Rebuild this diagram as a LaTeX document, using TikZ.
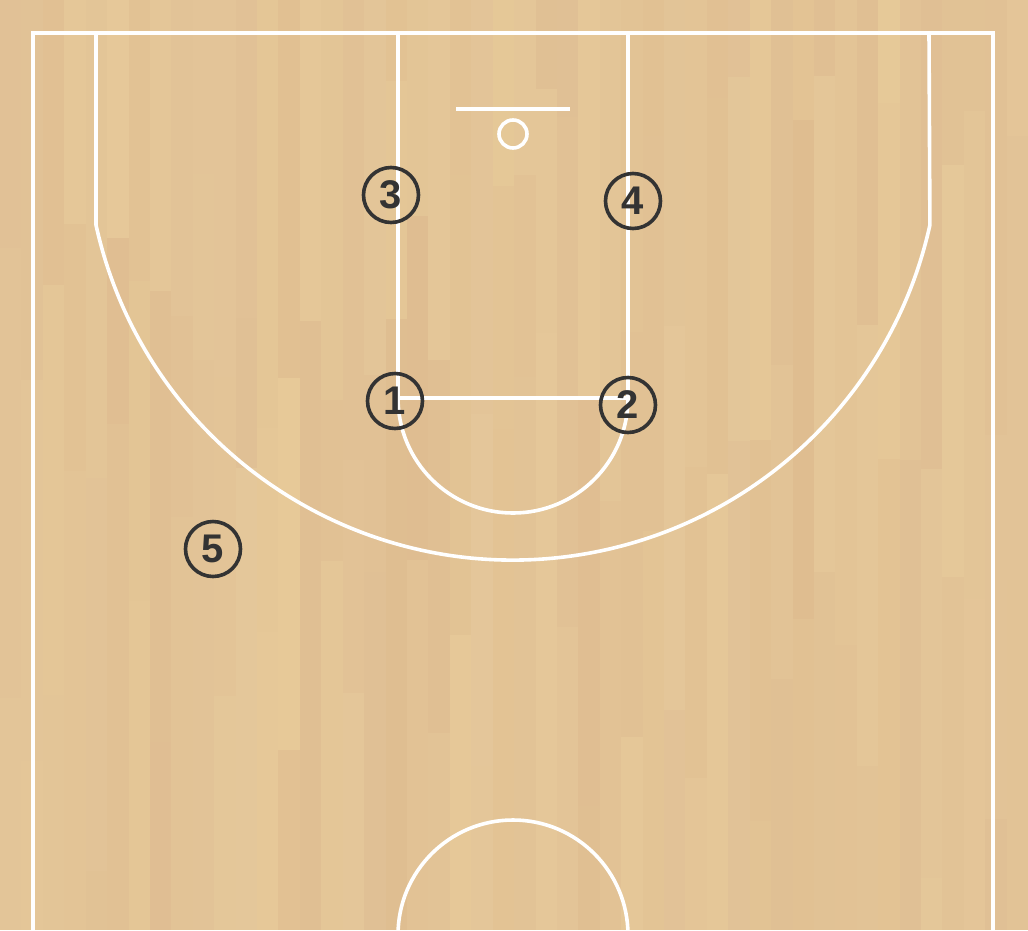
\documentclass[tikz,border=0pt]{standalone}
\usepackage{fontspec}
\setsansfont{Liberation Sans}
\definecolor{woodA}{HTML}{E7CA98}
\definecolor{woodB}{HTML}{DEBB8E}
\definecolor{woodC}{HTML}{E2C49B}
\definecolor{ink}{HTML}{333333}
\tikzset{
  court/.style={draw=white, line width=3.6pt},
  player/.style={circle, draw=ink, line width=3.6pt, minimum size=55pt, inner sep=0pt,
    text=ink, font=\sffamily\bfseries\fontsize{40}{40}\selectfont}
}
\begin{document}
\begin{tikzpicture}[x=1pt, y=-1pt]
\useasboundingbox (0,0) rectangle (1028,930);
\clip (0,0) rectangle (1028,930);
\fill[woodC] (0,0) rectangle (1028,930);
\pgfmathsetseed{12}
\foreach \i in {0,...,47}{
  \pgfmathsetmacro\xa{\i*21.42}
  \pgfmathsetmacro\xb{(\i+1)*21.42+0.5}
  \pgfmathsetmacro\ya{int(random(60,480))}
  \pgfmathsetmacro\yb{int(\ya+random(150,520))}
  \pgfmathsetmacro\pa{int(random(0,100))}
  \pgfmathsetmacro\pb{int(random(0,100))}
  \pgfmathsetmacro\pc{int(random(0,100))}
  \pgfmathsetmacro\qa{int(random(40,90))}
  \fill[woodA!\pa!woodB!\qa!woodC] (\xa,0) rectangle (\xb,\ya);
  \fill[woodA!\pb!woodB!\qa!woodC] (\xa,\ya) rectangle (\xb,\yb);
  \fill[woodA!\pc!woodB!\qa!woodC] (\xa,\yb) rectangle (\xb,930);
}
% outer boundary
\draw[court] (33,935) -- (33,33) -- (993,33) -- (993,935);
% three point line
\draw[court] (96,33) -- (96,225) arc[start angle=167.56, end angle=12.44, radius=427] -- (929,33);
% lane
\draw[court] (398,33) -- (398,398) -- (628,398) -- (628,33);
\draw[court] (398,398) arc[start angle=180, end angle=0, radius=115];
% backboard and rim
\draw[court] (456,109) -- (570,109);
\draw[court] (513,134) circle[radius=14];
% center circle
\draw[court] (398,935) arc[start angle=180, end angle=360, radius=115];
% players
\node[player] (p3) at (391,195) {3};
\node[player] (p4) at (633,201) {4};
\node[player] (p1) at (395,401) {1};
\node[player] (p2) at (628,405) {2};
\node[player] (p5) at (213,549) {5};
\end{tikzpicture}
\end{document}
